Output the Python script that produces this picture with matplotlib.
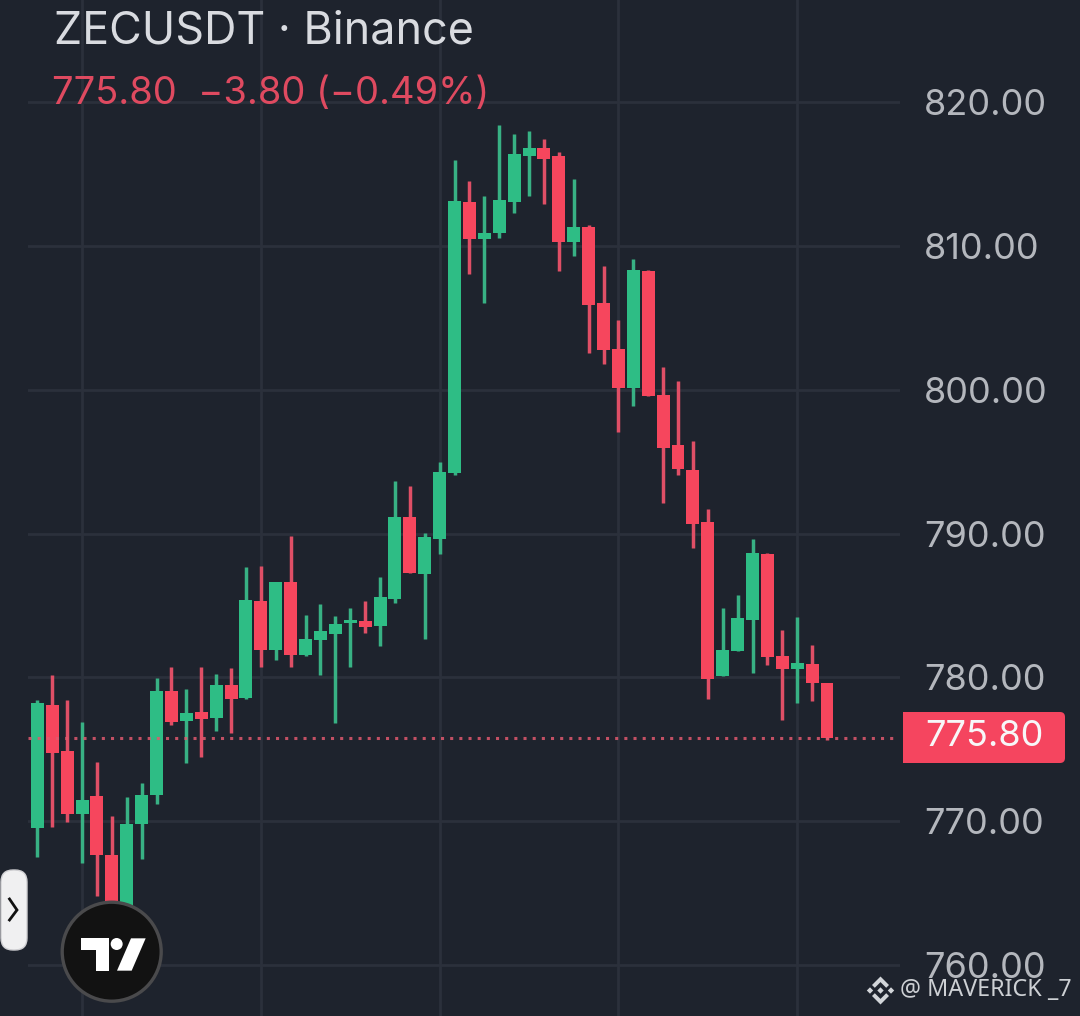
import matplotlib
matplotlib.use("Agg")
import matplotlib.pyplot as plt
from matplotlib.patches import Polygon, Circle, FancyBboxPatch, Rectangle

W, H = 1080, 1016
BG = "#1e232d"
GRID = "#2b303b"
UP = "#2ebd85"
DOWN = "#f6465d"
UP_WICK = "#38b184"
DOWN_WICK = "#df4f66"

opens = [769.5, 778.05, 774.85, 770.5, 771.75, 767.6, 763.45, 769.8, 771.8, 779.05,
         776.95, 777.6, 777.15, 779.45, 778.55, 785.3, 781.9, 786.65, 781.55, 782.6,
         783.0, 783.8, 783.9, 783.55, 785.45, 791.15, 787.2, 789.65, 794.2, 813.1,
         810.5, 810.9, 813.1, 816.3, 816.85, 816.3, 810.3, 811.3, 806.05, 802.85,
         800.15, 808.3, 799.65, 796.15, 794.45, 790.8, 780.1, 781.85, 784.0, 788.6,
         781.5, 780.6, 780.95, 779.6]
highs = [778.4, 780.15, 778.4, 776.9, 774.1, 770.35, 771.7, 772.65, 779.95, 780.75,
         779.2, 780.75, 780.25, 780.65, 787.7, 787.75, 786.65, 789.8, 784.35, 785.1,
         784.25, 784.8, 785.3, 787.0, 793.65, 793.3, 790.05, 795.0, 816.0, 814.55,
         813.5, 818.45, 817.8, 818.0, 817.45, 816.55, 814.7, 811.45, 808.65, 804.85,
         809.1, 808.35, 801.6, 800.6, 796.45, 791.7, 784.8, 785.75, 789.6, 788.65,
         783.3, 784.2, 782.25, 779.6]
lows = [767.5, 769.6, 769.95, 767.1, 764.8, 762.4, 762.75, 767.35, 771.2, 776.7,
        774.05, 774.45, 776.25, 776.1, 778.5, 780.7, 781.2, 780.75, 781.45, 780.15,
        776.8, 780.7, 783.1, 782.2, 785.15, 787.25, 782.65, 788.6, 794.1, 808.05,
        806.05, 810.55, 812.3, 813.5, 812.95, 808.3, 809.3, 802.55, 801.8, 797.05,
        798.9, 799.6, 792.15, 794.1, 789.0, 778.5, 780.1, 781.85, 780.3, 780.85,
        777.05, 778.2, 778.35, 775.65]
closes = [778.2, 774.75, 770.5, 771.45, 767.6, 763.45, 769.8, 771.8, 779.05, 776.9,
          777.5, 777.1, 779.45, 778.5, 785.4, 781.9, 786.65, 781.55, 782.65, 783.2,
          783.7, 784.0, 783.5, 785.6, 791.15, 787.25, 789.75, 794.3, 813.15, 810.5,
          810.9, 813.2, 816.4, 816.85, 816.05, 810.3, 811.3, 805.9, 802.8, 800.15,
          808.35, 799.6, 795.95, 794.5, 790.65, 779.9, 781.9, 784.15, 788.65, 781.4,
          780.6, 781.0, 779.6, 775.8]
price_ticks = [760, 770, 780, 790, 800, 810, 820]
time_ticks = [3, 15, 27, 39, 51]
last_price = 775.80
title_text = "ZECUSDT · Binance"
change_text = "775.80  −3.80 (−0.49%)"
watermark = "@ MAVERICK _7"

fig = plt.figure(figsize=(W / 100, H / 100), dpi=100, facecolor=BG)
ax = fig.add_axes([28 / W, 0, (900 - 28) / W, 1], facecolor=BG)
ax.set_xlim(-0.63, 57.9)
ax.set_ylim(756.43, 827.13)
for s in ax.spines.values():
    s.set_visible(False)

ax.set_xticks(time_ticks)
ax.set_xticklabels([])
ax.set_yticks(price_ticks)
ax.set_yticklabels([f"{p:.2f}" for p in price_ticks], family="Inter",
                   fontsize=26, color="#b4b7bd")
ax.yaxis.tick_right()
ax.tick_params(axis="both", length=0)
ax.tick_params(axis="y", pad=17.5)
ax.grid(True, color=GRID, linewidth=2.0)
ax.set_axisbelow(True)

idx = list(range(len(opens)))
up = [c >= o for o, c in zip(opens, closes)]
ax.vlines(idx, lows, highs, colors=[UP_WICK if u else DOWN_WICK for u in up],
          linewidth=2.5, zorder=2)
ax.bar(idx, [abs(c - o) for o, c in zip(opens, closes)], width=0.87,
       bottom=[min(o, c) for o, c in zip(opens, closes)],
       color=[UP if u else DOWN for u in up], linewidth=0, zorder=3)
ax.axhline(last_price, color="#e0596e", alpha=0.85, linewidth=2.2,
           linestyle=(0, (1, 2)), zorder=4, xmax=(895 - 28) / (900 - 28))

ov = fig.add_axes([0, 0, 1, 1], facecolor="none", zorder=5)
ov.set_xlim(0, W)
ov.set_ylim(H, 0)
ov.axis("off")

ov.text(54, 32, title_text, family="Inter", fontsize=32.3, color="#d9dbe0",
        va="center", ha="left")
ov.text(52, 94, change_text, family="Inter", fontsize=27.4, color="#df4a60",
        va="center", ha="left")

# last price flag
ov.add_patch(FancyBboxPatch((909, 716), 152, 43, boxstyle="round,pad=4,rounding_size=5",
                            facecolor="#f5455f", edgecolor="none"))
ov.add_patch(Rectangle((903, 712), 14, 51, facecolor="#f5455f", edgecolor="none"))
ov.text(925, 737, f"{last_price:.2f}", family="Inter", fontsize=26,
        color="#f7f7f8", va="center", ha="left")

# side handle
ov.add_patch(FancyBboxPatch((10, 879), 8, 62, boxstyle="round,pad=9,rounding_size=12",
                            facecolor="#f0f0f1", edgecolor="#cfcfd2", linewidth=1))
ov.plot([9.5, 17, 9.5], [899, 910, 920], color="#111111", linewidth=2.0,
        solid_joinstyle="miter")

# logo badge
ov.add_patch(Circle((111.7, 951.7), 49.5, facecolor="#121212", edgecolor="#4a4a4c",
                    linewidth=2.4))
def badge(z):
    return [(60 + a / 3, 900 + b / 3) for a, b in z]
ov.add_patch(Polygon(badge([(62, 115), (147, 115), (147, 212), (108, 212), (108, 150), (62, 150)]),
                     facecolor="white", edgecolor="none"))
ov.add_patch(Polygon(badge([(213, 115), (257, 115), (215, 212), (171, 212)]),
                     facecolor="white", edgecolor="none"))
ov.add_patch(Circle((60 + 170 / 3, 900 + 132 / 3), 6, facecolor="white", edgecolor="none"))

# watermark
cx, cy = 880.5, 990.5
wm = "#d2d5d9"
for dx, dy, r in [(0, 0, 3.2), (-10.5, 0, 3.2), (10.5, 0, 3.2)]:
    ov.add_patch(Polygon([(cx + dx - r, cy + dy), (cx + dx, cy + dy - r),
                          (cx + dx + r, cy + dy), (cx + dx, cy + dy + r)],
                         facecolor=wm, edgecolor="none"))
for sgn in (-1, 1):
    ov.add_patch(Polygon([(cx - 8.5, cy + sgn * 5.5), (cx, cy + sgn * 14), (cx + 8.5, cy + sgn * 5.5),
                          (cx + 5.7, cy + sgn * 2.7), (cx, cy + sgn * 8.4), (cx - 5.7, cy + sgn * 2.7)],
                         facecolor=wm, edgecolor="none"))
ov.text(900, 990, watermark, family="Noto Sans", fontsize=16.8, color="#cdd0d4",
        va="center", ha="left")

fig.savefig("out.png", dpi=100, facecolor=BG)
